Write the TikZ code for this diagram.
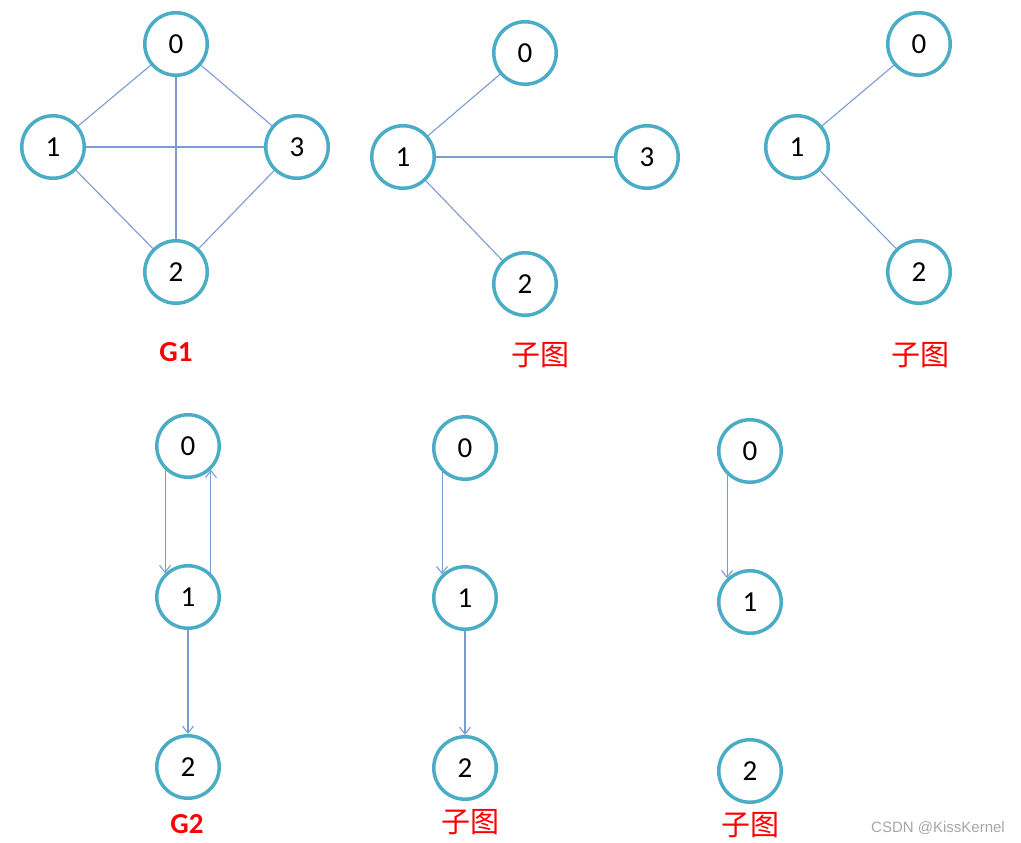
\documentclass[tikz,border=0pt]{standalone}
\usepackage{fontspec}
\setmainfont{Carlito}
\newfontfamily\cjk{Noto Sans CJK SC}
\newfontfamily\wm{Liberation Sans}
\usetikzlibrary{arrows.meta}
\definecolor{ringc}{HTML}{4BACC6}
\definecolor{edgec}{HTML}{7B9BD1}
\definecolor{labred}{HTML}{FF0000}
\tikzset{
  vtx/.style={circle, draw=ringc, line width=3.5pt, minimum size=62.5pt, inner sep=0pt,
    font=\fontsize{29}{29}\selectfont, text=black},
  edg/.style={draw=edgec, line width=1.1pt},
  arc/.style={edg, -{Straight Barb[length=7pt,width=11pt,line width=1.1pt]}},
  glab/.style={text=labred, font=\fontsize{29}{29}\selectfont\bfseries},
  clab/.style={text=labred, font=\cjk\fontsize{29}{29}\selectfont},
}
\begin{document}
\begin{tikzpicture}[x=1pt,y=-1pt]
\useasboundingbox (0,0) rectangle (1021,843);
% G1
\node[vtx] (g0) at (176,44) {0};
\node[vtx] (g1) at (53,147) {1};
\node[vtx] (g3) at (297,147) {3};
\node[vtx] (g2) at (176,272) {2};
\draw[edg] (g0) -- (g1);
\draw[edg] (g0) -- (g3);
\draw[edg] (g0) -- (g2);
\draw[edg] (g1) -- (g3);
\draw[edg] (g1) -- (g2);
\draw[edg] (g3) -- (g2);
\node[glab] (lg1) at (176,352) {G1};
% subgraph a
\node[vtx] (a0) at (525,53) {0};
\node[vtx] (a1) at (403,157) {1};
\node[vtx] (a3) at (647,157) {3};
\node[vtx] (a2) at (525,284) {2};
\draw[edg] (a1) -- (a0);
\draw[edg] (a1) -- (a3);
\draw[edg] (a1) -- (a2);
\node[clab] (la) at (540,355) {子图};
% subgraph b
\node[vtx] (b0) at (919,44) {0};
\node[vtx] (b1) at (797,147) {1};
\node[vtx] (b2) at (919,272) {2};
\draw[edg] (b1) -- (b0);
\draw[edg] (b1) -- (b2);
\node[clab] (lb) at (920,355) {子图};
% G2
\node[vtx] (c0) at (188,446) {0};
\node[vtx] (c1) at (188,597) {1};
\node[vtx] (c2) at (188,767) {2};
\draw[arc] (c0.-134) -- (c1.134);
\draw[arc] (c1.46) -- (c0.-46);
\draw[arc] (c1) -- (c2);
\node[glab] (lg2) at (187,824) {G2};
% subgraph c
\node[vtx] (d0) at (465,448) {0};
\node[vtx] (d1) at (465,598) {1};
\node[vtx] (d2) at (465,768) {2};
\draw[arc] (d0.-134) -- (d1.134);
\draw[arc] (d1) -- (d2);
\node[clab] (lc) at (470,822) {子图};
% subgraph d
\node[vtx] (e0) at (750,451) {0};
\node[vtx] (e1) at (750,602) {1};
\node[vtx] (e2) at (750,771) {2};
\draw[arc] (e0.-134) -- (e1.134);
\node[clab] (ld) at (750,825) {子图};
% watermark
\node[text=gray!70, font=\wm\fontsize{15}{15}\selectfont] (wmk) at (938,828) {CSDN @KissKernel};
\end{tikzpicture}
\end{document}
